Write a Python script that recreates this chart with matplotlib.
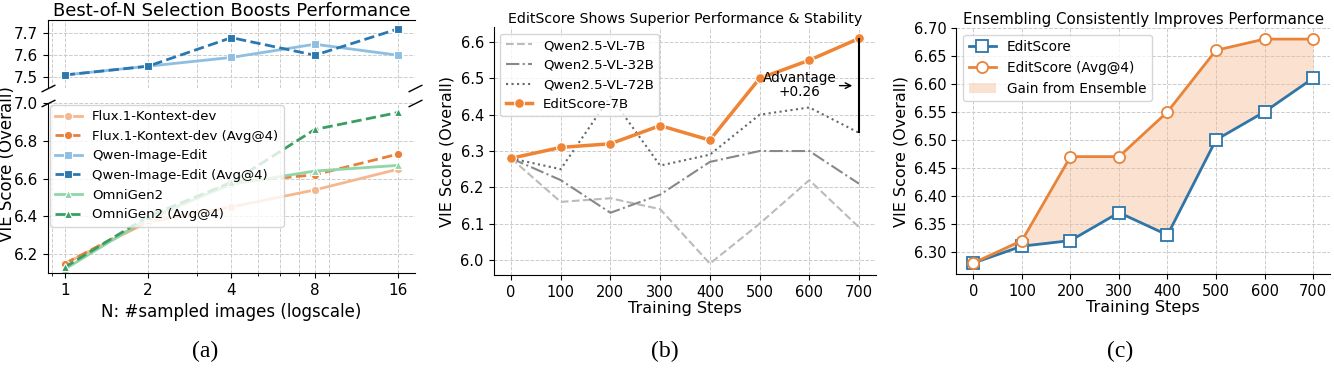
import numpy as np
import matplotlib.pyplot as plt
from matplotlib.ticker import NullFormatter, FixedLocator, FixedFormatter

# (a) best-of-N
n_samples = [1, 2, 4, 8, 16]
flux = [6.15, 6.37, 6.45, 6.54, 6.65]
flux_avg = [6.15, 6.38, 6.58, 6.62, 6.73]
qwen = [7.51, 7.55, 7.59, 7.65, 7.60]
qwen_avg = [7.51, 7.55, 7.68, 7.60, 7.72]
omni = [6.12, 6.39, 6.57, 6.64, 6.67]
omni_avg = [6.13, 6.40, 6.58, 6.86, 6.95]

# (b) / (c) training curves
steps = [0, 100, 200, 300, 400, 500, 600, 700]
qwen7b = [6.28, 6.16, 6.17, 6.14, 5.99, 6.10, 6.22, 6.09]
qwen32b = [6.28, 6.22, 6.13, 6.18, 6.27, 6.30, 6.30, 6.21]
qwen72b = [6.28, 6.25, 6.45, 6.26, 6.29, 6.40, 6.42, 6.35]
editscore = [6.28, 6.31, 6.32, 6.37, 6.33, 6.50, 6.55, 6.61]
editscore_avg = [6.28, 6.32, 6.47, 6.47, 6.55, 6.66, 6.68, 6.68]

grid_kw = dict(color='#cccccc', linestyle='--', linewidth=0.7)

fig = plt.figure(figsize=(13.34, 3.72), dpi=100)

# ---------------- panel (a): broken axis ----------------
ax_top = fig.add_axes([0.036, 0.763, 0.275, 0.183])
ax_bot = fig.add_axes([0.036, 0.266, 0.275, 0.457], sharex=ax_top)

mk = dict(markersize=6, markeredgecolor='white', markeredgewidth=0.8, lw=2)
h_qwen, = ax_top.plot(n_samples, qwen, color='#8dbfe3', marker='s', label='Qwen-Image-Edit', **mk)
h_qwen_avg, = ax_top.plot(n_samples, qwen_avg, color='#2b78b0', marker='s', ls='--',
                          label='Qwen-Image-Edit (Avg@4)', **mk)
h_flux, = ax_bot.plot(n_samples, flux, color='#f5b88e', marker='o', label='Flux.1-Kontext-dev', **mk)
h_flux_avg, = ax_bot.plot(n_samples, flux_avg, color='#e8803c', marker='o', ls='--',
                          label='Flux.1-Kontext-dev (Avg@4)', **mk)
h_omni, = ax_bot.plot(n_samples, omni, color='#8fd6a8', marker='^', label='OmniGen2', **mk)
h_omni_avg, = ax_bot.plot(n_samples, omni_avg, color='#3a9d62', marker='^', ls='--',
                          label='OmniGen2 (Avg@4)', **mk)

ax_bot.set_xscale('log')
ax_bot.xaxis.set_major_locator(FixedLocator(n_samples))
ax_bot.xaxis.set_major_formatter(FixedFormatter([str(n) for n in n_samples]))
ax_bot.xaxis.set_minor_formatter(NullFormatter())

ax_top.set_ylim(7.45, 7.76)
ax_top.set_yticks([7.5, 7.6, 7.7])
ax_bot.set_ylim(6.1, 7.0)
ax_bot.set_yticks([6.2, 6.4, 6.6, 6.8, 7.0])

ax_top.spines['bottom'].set_visible(False)
ax_top.spines['right'].set_visible(False)
ax_bot.spines['top'].set_visible(False)
ax_bot.spines['right'].set_visible(False)
ax_top.tick_params(axis='x', which='both', bottom=False, labelbottom=False)
for ax in (ax_top, ax_bot):
    ax.tick_params(labelsize=11)
    ax.grid(True, which='both', **grid_kw)
    ax.set_axisbelow(True)

brk = dict(marker=[(-1, -0.5), (1, 0.5)], markersize=10, linestyle='none',
           color='k', mec='k', mew=1, clip_on=False)
ax_top.plot([0, 1], [0, 0], transform=ax_top.transAxes, **brk)
ax_bot.plot([0, 1], [1, 1], transform=ax_bot.transAxes, **brk)

ax_top.set_title('Best-of-N Selection Boosts Performance', fontsize=13, pad=3)
ax_bot.set_xlabel('N: #sampled images (logscale)', fontsize=12)
fig.text(0.0055, 0.56, 'VIE Score (Overall)', rotation=90, va='center', ha='center', fontsize=12)
ax_bot.legend(handles=[h_flux, h_flux_avg, h_qwen, h_qwen_avg, h_omni, h_omni_avg],
              loc='upper left', fontsize=9.5, framealpha=0.8, borderaxespad=0.15)

# ---------------- panel (b) ----------------
ax_b = fig.add_axes([0.370, 0.261, 0.287, 0.666])
ax_b.plot(steps, qwen7b, color='#bbbbbb', ls='--', lw=1.5, label='Qwen2.5-VL-7B')
ax_b.plot(steps, qwen32b, color='#888888', ls='-.', lw=1.5, label='Qwen2.5-VL-32B')
ax_b.plot(steps, qwen72b, color='#5f6b6b', ls=':', lw=1.5, label='Qwen2.5-VL-72B')
ax_b.plot(steps, editscore, color='#ee8434', lw=2.5, marker='o', markersize=7,
          markeredgecolor='white', markeredgewidth=0.8, label='EditScore-7B')
ax_b.vlines(steps[-1], qwen72b[-1], editscore[-1], color='k', lw=1.5)
ax_b.text(580, 6.483, f'Advantage\n+{editscore[-1] - qwen72b[-1]:.2f}',
          ha='center', va='center', fontsize=9.8, linespacing=1.0)
ax_b.annotate('', xy=(692, 6.48), xytext=(655, 6.48),
              arrowprops=dict(arrowstyle='->', lw=1, color='k'))
ax_b.set_yticks([6.0, 6.1, 6.2, 6.3, 6.4, 6.5, 6.6])
ax_b.set_xticks(steps)
ax_b.set_title('EditScore Shows Superior Performance & Stability', fontsize=10.2, pad=3)
ax_b.set_xlabel('Training Steps', fontsize=11.5, labelpad=1)
ax_b.set_ylabel('VIE Score (Overall)', fontsize=11.5)
ax_b.tick_params(labelsize=10.5)
ax_b.grid(True, **grid_kw)
ax_b.set_axisbelow(True)
ax_b.spines['top'].set_visible(False)
ax_b.spines['right'].set_visible(False)
ax_b.legend(loc='upper left', fontsize=9.6, framealpha=0.8)

# ---------------- panel (c) ----------------
ax_c = fig.add_axes([0.717, 0.263, 0.280, 0.662])
ax_c.fill_between(steps, editscore, editscore_avg, color='#f6b58a', alpha=0.4,
                  linewidth=0, label='Gain from Ensemble')
ax_c.plot(steps, editscore, color='#2e75a8', lw=2, marker='s', markersize=8,
          markerfacecolor='white', markeredgecolor='#2e75a8', markeredgewidth=1.3,
          label='EditScore')
ax_c.plot(steps, editscore_avg, color='#e8843a', lw=2, marker='o', markersize=8,
          markerfacecolor='white', markeredgecolor='#e8843a', markeredgewidth=1.3,
          label='EditScore (Avg@4)')
ax_c.set_xticks(steps)
ax_c.set_yticks(np.round(np.arange(6.30, 6.701, 0.05), 2))
ax_c.yaxis.set_major_formatter(plt.FormatStrFormatter('%.2f'))
ax_c.set_title('Ensembling Consistently Improves Performance', fontsize=10.8, pad=3)
ax_c.set_xlabel('Training Steps', fontsize=11.5, labelpad=1)
ax_c.set_ylabel('VIE Score (Overall)', fontsize=11.5)
ax_c.tick_params(labelsize=10.5)
ax_c.grid(True, **grid_kw)
ax_c.set_axisbelow(True)
ax_c.spines['top'].set_visible(False)
ax_c.spines['right'].set_visible(False)
hc, lc = ax_c.get_legend_handles_labels()
ax_c.legend([hc[1], hc[2], hc[0]], [lc[1], lc[2], lc[0]], loc='upper left',
            fontsize=9.8, framealpha=0.8)

# captions
for xc, lab in [(0.154, '(a)'), (0.498, '(b)'), (0.840, '(c)')]:
    fig.text(xc, 0.055, lab, ha='center', va='center', fontsize=17, family='Liberation Serif')

fig.savefig('out.png', dpi=100)
